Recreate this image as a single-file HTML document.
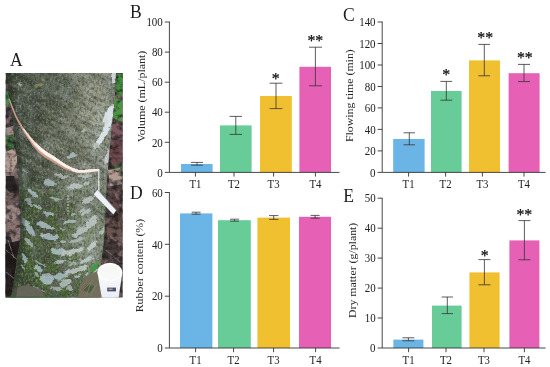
<!DOCTYPE html>
<html><head><meta charset="utf-8"><title>Figure</title>
<style>
html,body{margin:0;padding:0;background:#fff}
body{width:550px;height:367px;overflow:hidden}
svg{display:block;font-family:"Liberation Serif",serif}
.pl{font-size:19.5px;fill:#1c1c1c}
.tk{font-size:12.3px;fill:#222}
.yl{font-size:10.7px;fill:#262626}
.st{font-size:15.8px;fill:#111;stroke:#111;stroke-width:0.25}
.ax{stroke:#333333;stroke-width:0.9;fill:none}
.er{stroke:#333;stroke-width:0.8;fill:none}
</style></head><body>
<svg width="550" height="367" viewBox="0 0 550 367">
<rect width="550" height="367" fill="#fff"/>
<text transform="translate(9.9 66.4) scale(0.9 1)" class="pl">A</text>
<defs>
<clipPath id="pc"><rect x="5.5" y="73.0" width="117.3" height="224.6"/></clipPath>
<clipPath id="tc"><path id="trk" d="M7 72 L9 98 L14 125 L17 155 L19 185 L21 215 L20 240 L15.5 270 L11 298 L100 298 L101 262 L104 240 L105 215 L106.6 185 L109 155 L112 125 L114.6 100 L116 72 Z"/></clipPath>
<linearGradient id="tg" x1="7" x2="114" y1="0" y2="0" gradientUnits="userSpaceOnUse">
<stop offset="0" stop-color="#2b3029"/><stop offset="0.06" stop-color="#3a3f36"/><stop offset="0.25" stop-color="#484d42"/>
<stop offset="0.5" stop-color="#626658"/><stop offset="0.75" stop-color="#85887c"/><stop offset="0.92" stop-color="#9da097"/><stop offset="1" stop-color="#76796d"/>
</linearGradient>
<linearGradient id="mg" x1="0" x2="0" y1="73" y2="297" gradientUnits="userSpaceOnUse">
<stop offset="0" stop-color="#fff" stop-opacity="0.22"/><stop offset="0.46" stop-color="#fff" stop-opacity="0.15"/>
<stop offset="0.6" stop-color="#fff" stop-opacity="0.7"/><stop offset="1" stop-color="#fff" stop-opacity="1"/>
</linearGradient>
<mask id="mm" maskUnits="userSpaceOnUse" x="0" y="70" width="130" height="230"><rect x="0" y="70" width="130" height="230" fill="url(#mg)"/></mask>
<filter id="b1" x="-20%" y="-20%" width="140%" height="140%"><feGaussianBlur stdDeviation="0.6"/></filter>
<filter id="b2" x="-30%" y="-30%" width="160%" height="160%"><feGaussianBlur stdDeviation="2"/></filter>
<filter id="b4" x="-30%" y="-30%" width="160%" height="160%"><feGaussianBlur stdDeviation="4"/></filter>
<filter id="rough" x="-10%" y="-10%" width="120%" height="120%">
<feTurbulence type="fractalNoise" baseFrequency="0.18 0.14" numOctaves="3" seed="5" result="t"/>
<feDisplacementMap in="SourceGraphic" in2="t" scale="5" xChannelSelector="R" yChannelSelector="G"/>
<feGaussianBlur stdDeviation="0.65"/>
</filter>
<filter id="nL" x="0" y="0" width="100%" height="100%" color-interpolation-filters="sRGB"><feTurbulence type="fractalNoise" baseFrequency="0.5 0.38" numOctaves="3" seed="7"/><feColorMatrix type="matrix" values="0 0 0 0 0.753  0 0 0 0 0.776  0 0 0 0 0.753  2.6 0 0 0 -1.25"/></filter>
<filter id="nD" x="0" y="0" width="100%" height="100%" color-interpolation-filters="sRGB"><feTurbulence type="fractalNoise" baseFrequency="0.45 0.32" numOctaves="3" seed="3"/><feColorMatrix type="matrix" values="0 0 0 0 0.157  0 0 0 0 0.180  0 0 0 0 0.149  0 2.6 0 0 -1.15"/></filter>
<filter id="nS" x="0" y="0" width="100%" height="100%" color-interpolation-filters="sRGB"><feTurbulence type="fractalNoise" baseFrequency="0.035 0.22" numOctaves="3" seed="17"/><feColorMatrix type="matrix" values="0 0 0 0 0.204  0 0 0 0 0.227  0 0 0 0 0.173  3.0 0 0 0 -1.3"/></filter>
<filter id="nS2" x="0" y="0" width="100%" height="100%" color-interpolation-filters="sRGB"><feTurbulence type="fractalNoise" baseFrequency="0.035 0.2" numOctaves="3" seed="27"/><feColorMatrix type="matrix" values="0 0 0 0 0.690  0 0 0 0 0.706  0 0 0 0 0.659  0 3.0 0 0 -1.35"/></filter>
<filter id="nM" x="0" y="0" width="100%" height="100%" color-interpolation-filters="sRGB"><feTurbulence type="fractalNoise" baseFrequency="0.12 0.08" numOctaves="3" seed="21"/><feColorMatrix type="matrix" values="0 0 0 0 0.314  0 0 0 0 0.424  0 0 0 0 0.196  0 0 3.8 0 -1.5"/></filter>
<filter id="nM2" x="0" y="0" width="100%" height="100%" color-interpolation-filters="sRGB"><feTurbulence type="fractalNoise" baseFrequency="0.3 0.22" numOctaves="2" seed="9"/><feColorMatrix type="matrix" values="0 0 0 0 0.259  0 0 0 0 0.369  0 0 0 0 0.173  0 2.6 0 0 -1.1"/></filter>
<filter id="nG" x="0" y="0" width="100%" height="100%" color-interpolation-filters="sRGB"><feTurbulence type="fractalNoise" baseFrequency="0.07 0.05" numOctaves="2" seed="14"/><feColorMatrix type="matrix" values="0 0 0 0 0.745  0 0 0 0 0.784  0 0 0 0 0.776  3.0 0 0 0 -1.3"/></filter>
<filter id="nB" x="0" y="0" width="100%" height="100%" color-interpolation-filters="sRGB"><feTurbulence type="fractalNoise" baseFrequency="0.14 0.12" numOctaves="3" seed="11"/><feColorMatrix type="matrix" values="0 0 0 0 0.690  0 0 0 0 0.573  0 0 0 0 0.557  0 0 3.0 0 -1.35"/></filter>
<filter id="nBd" x="0" y="0" width="100%" height="100%" color-interpolation-filters="sRGB"><feTurbulence type="fractalNoise" baseFrequency="0.16 0.2" numOctaves="3" seed="31"/><feColorMatrix type="matrix" values="0 0 0 0 0.094  0 0 0 0 0.078  0 0 0 0 0.086  0 3.0 0 0 -1.3"/></filter>
</defs>
<g clip-path="url(#pc)">
<rect x="5.5" y="73.0" width="117.3" height="224.6" fill="#40383a"/>
<g filter="url(#b2)">
<ellipse cx="8" cy="100" rx="3" ry="6" fill="#3e8a48"/>
<ellipse cx="9" cy="140" rx="5" ry="10" fill="#4e7a42"/>
<ellipse cx="9" cy="168" rx="6" ry="14" fill="#a89088"/>
<ellipse cx="10" cy="200" rx="7" ry="12" fill="#6a5a58"/>
<ellipse cx="12" cy="225" rx="7" ry="10" fill="#8a7470"/>
<ellipse cx="10" cy="260" rx="7" ry="20" fill="#1f1b1e"/>
<ellipse cx="10" cy="290" rx="8" ry="6" fill="#3a3436"/>
<ellipse cx="119" cy="85" rx="4" ry="12" fill="#3f8a3c"/>
<ellipse cx="118" cy="110" rx="4" ry="10" fill="#5a9048"/>
<ellipse cx="119" cy="130" rx="4" ry="8" fill="#7a5a5c"/>
<ellipse cx="116" cy="150" rx="6" ry="12" fill="#6a4448"/>
<ellipse cx="117" cy="172" rx="5" ry="8" fill="#4a7a3c"/>
<ellipse cx="115" cy="195" rx="7" ry="10" fill="#5a4644"/>
<ellipse cx="116" cy="225" rx="7" ry="12" fill="#4a3834"/>
<ellipse cx="114" cy="250" rx="8" ry="8" fill="#33282a"/>
<ellipse cx="118" cy="243" rx="4" ry="6" fill="#8a6a68"/>
</g>
<rect x="5.5" y="73.0" width="117.3" height="224.6" filter="url(#nB)" opacity="0.6"/>
<g filter="url(#b1)">
<path d="M6 152 L15 148 L18 160 L12 172 L6 170 Z" fill="#b39c94"/>
<path d="M6 176 L14 176 L18 190 L9 192 L6 188 Z" fill="#2c2828"/>
<path d="M7 206 L17 203 L21 213 L12 222 L6 218 Z" fill="#9a8684"/>
<path d="M9 230 L20 227 L22 240 L13 246 Z" fill="#8c7876"/>
<path d="M6 128 L13 126 L14 136 L7 140 Z" fill="#a08c88"/>
<path d="M7 136 L13 134 L14 148 L8 149 Z" fill="#3f7a40"/>
<path d="M6 92 L8.5 91 L9 104 L6 104 Z" fill="#3f9048"/>
<path d="M110 150 L121 146 L123 160 L113 166 Z" fill="#6e4a4e"/>
<path d="M108 170 L120 168 L123 184 L110 186 Z" fill="#b09a92"/>
<path d="M108 196 L118 200 L122 214 L112 210 Z" fill="#5c4642"/>
<path d="M106 226 L120 222 L122 236 L108 240 Z" fill="#6a5450"/>
<path d="M104 244 L114 240 L122 250 L108 256 Z" fill="#4a3c3a"/>
<path d="M116 74 L122 74 L122 96 L117 92 Z" fill="#3f8c3c"/>
<path d="M114 98 L122 100 L122 122 L113 118 Z" fill="#4f9444"/>
<path d="M112 124 L122 126 L122 140 L112 138 Z" fill="#7c5a60"/>
<path d="M5 244 L21 240 L18 262 L13 299 L5 299 Z" fill="#1c181b" opacity="0.85"/>
<path d="M6 250 L20 262 M6 272 L16 280 M8 240 L14 258 M105 262 L121 252 M106 250 L120 262 M110 236 L122 246" stroke="#8a8084" stroke-width="0.8" fill="none"/>
</g>
<rect x="5.5" y="73.0" width="117.3" height="224.6" filter="url(#nBd)" opacity="0.7"/>
<path d="M78 297 L80 280 L90 272 L101 268 L104 297 Z" fill="#77705f" filter="url(#b1)"/>
<use href="#trk" fill="url(#tg)"/>
<g clip-path="url(#tc)">
<g filter="url(#b4)">
<ellipse cx="60" cy="88" rx="40" ry="12" fill="#667068" opacity="0.45"/>
<ellipse cx="30" cy="112" rx="12" ry="28" fill="#4a544c" opacity="0.55"/>
<ellipse cx="92" cy="110" rx="16" ry="40" fill="#b6b6a4" opacity="0.75"/>
<ellipse cx="97" cy="140" rx="9" ry="20" fill="#b6beb8" opacity="0.5"/>
<ellipse cx="80" cy="185" rx="22" ry="9" fill="#aab4ac" opacity="0.55"/>
<ellipse cx="45" cy="150" rx="18" ry="12" fill="#566058" opacity="0.45"/>
<ellipse cx="34" cy="162" rx="16" ry="24" fill="#454b40" opacity="0.6"/>
<ellipse cx="64" cy="140" rx="28" ry="26" fill="#74735c" opacity="0.4"/>
<ellipse cx="30" cy="205" rx="8" ry="30" fill="#3e5234" opacity="0.45"/>
<ellipse cx="30" cy="266" rx="13" ry="26" fill="#2c4220" opacity="0.55"/>
<ellipse cx="80" cy="250" rx="22" ry="16" fill="#b0bcb8" opacity="0.5"/>
<ellipse cx="55" cy="292" rx="40" ry="7" fill="#5e665a" opacity="0.6"/>
</g>
<rect x="5.5" y="73.0" width="117.3" height="224.6" filter="url(#nG)" opacity="0.35"/>
<g mask="url(#mm)"><rect x="5.5" y="73.0" width="117.3" height="224.6" fill="#3a4434" opacity="0.3"/></g>
<g mask="url(#mm)"><rect x="5.5" y="73.0" width="117.3" height="224.6" filter="url(#nM)" opacity="0.85"/><rect x="5.5" y="73.0" width="117.3" height="224.6" filter="url(#nM2)" opacity="0.6"/></g>
<ellipse cx="88" cy="228" rx="13" ry="48" fill="#b4bcb6" opacity="0.42" filter="url(#b4)"/>
<rect x="-40" y="40" width="220" height="150" filter="url(#nS)" opacity="0.42" transform="rotate(28 60 120)"/>
<rect x="-40" y="40" width="220" height="150" filter="url(#nS2)" opacity="0.3" transform="rotate(28 60 120)"/>
<rect x="5.5" y="73.0" width="117.3" height="224.6" filter="url(#nD)" opacity="0.55"/>
<rect x="5.5" y="73.0" width="117.3" height="224.6" filter="url(#nL)" opacity="0.42"/>
<g filter="url(#rough)">
<ellipse cx="19.6" cy="84" rx="2.6" ry="1.2" fill="#a9c4d4" transform="rotate(25 19.6 84)" opacity="0.78"/>
<ellipse cx="39" cy="85" rx="5" ry="1.6" fill="#8f8a58" transform="rotate(-5 39 85)" opacity="0.78"/>
<ellipse cx="114" cy="78" rx="1.9" ry="5.5" fill="#e8eef2" transform="rotate(6 114 78)" opacity="0.78"/>
<ellipse cx="110.5" cy="116" rx="2.4" ry="12" fill="#e0e7ec" transform="rotate(8 110.5 116)" opacity="0.78"/>
<ellipse cx="104" cy="134" rx="3.2" ry="11" fill="#d2d9dc" transform="rotate(30 104 134)" opacity="0.78"/>
<ellipse cx="97.5" cy="145" rx="2" ry="5" fill="#c2cac8" transform="rotate(38 97.5 145)" opacity="0.78"/>
<ellipse cx="107" cy="157" rx="1.8" ry="8" fill="#d0d6d6" transform="rotate(14 107 157)" opacity="0.78"/>
<ellipse cx="72" cy="155.5" rx="5.5" ry="2.2" fill="#b6c8ce" transform="rotate(-12 72 155.5)" opacity="0.78"/>
<ellipse cx="84" cy="131" rx="2" ry="1.5" fill="#bcc8c8" transform="rotate(0 84 131)" opacity="0.78"/>
<ellipse cx="49" cy="183" rx="6" ry="3" fill="#b0c0c8" transform="rotate(8 49 183)" opacity="0.78"/>
<ellipse cx="32.5" cy="193" rx="6.5" ry="2" fill="#b0c0c8" transform="rotate(42 32.5 193)" opacity="0.78"/>
<ellipse cx="49" cy="214" rx="5.5" ry="1.8" fill="#b0c2c8" transform="rotate(8 49 214)" opacity="0.78"/>
<ellipse cx="28" cy="227" rx="10" ry="3.2" fill="#b0c4ce" transform="rotate(58 28 227)" opacity="0.78"/>
<ellipse cx="45.5" cy="226" rx="9" ry="2.6" fill="#b4c6ce" transform="rotate(18 45.5 226)" opacity="0.78"/>
<ellipse cx="50" cy="237" rx="9" ry="3" fill="#b4c8d2" transform="rotate(5 50 237)" opacity="0.78"/>
<ellipse cx="24.5" cy="258" rx="5" ry="2" fill="#a8bec8" transform="rotate(62 24.5 258)" opacity="0.78"/>
<ellipse cx="58" cy="251" rx="8" ry="2.8" fill="#b6cad4" transform="rotate(4 58 251)" opacity="0.78"/>
<ellipse cx="39" cy="269" rx="4" ry="2.6" fill="#b0c6d0" transform="rotate(40 39 269)" opacity="0.78"/>
<ellipse cx="47" cy="280" rx="7.5" ry="4.5" fill="#b4cad6" transform="rotate(8 47 280)" opacity="0.78"/>
<ellipse cx="60" cy="276" rx="7" ry="3.6" fill="#b0c6d0" transform="rotate(-5 60 276)" opacity="0.78"/>
<ellipse cx="75" cy="186" rx="8" ry="2.2" fill="#c6d0d0" transform="rotate(-8 75 186)" opacity="0.78"/>
<ellipse cx="88" cy="200" rx="7" ry="3" fill="#c2ccca" transform="rotate(-28 88 200)" opacity="0.78"/>
<ellipse cx="92" cy="222" rx="8" ry="3.5" fill="#c6cecc" transform="rotate(-52 92 222)" opacity="0.78"/>
<ellipse cx="80" cy="232" rx="9" ry="3" fill="#c0cac8" transform="rotate(-30 80 232)" opacity="0.78"/>
<ellipse cx="72" cy="252" rx="12" ry="2.6" fill="#cad4d4" transform="rotate(-14 72 252)" opacity="0.78"/>
<ellipse cx="92" cy="246" rx="6" ry="2.4" fill="#ccd6d6" transform="rotate(-50 92 246)" opacity="0.78"/>
<ellipse cx="76" cy="270" rx="12" ry="3" fill="#c6d2d2" transform="rotate(-16 76 270)" opacity="0.78"/>
<ellipse cx="66" cy="283" rx="7" ry="3" fill="#bac8c8" transform="rotate(-20 66 283)" opacity="0.78"/>
<ellipse cx="62" cy="176" rx="8" ry="2" fill="#b4beba" transform="rotate(6 62 176)" opacity="0.78"/>
<ellipse cx="84" cy="176" rx="7" ry="2" fill="#bac4c0" transform="rotate(-4 84 176)" opacity="0.78"/>
<ellipse cx="38" cy="207" rx="5" ry="1.6" fill="#a8bac0" transform="rotate(30 38 207)" opacity="0.78"/>
<ellipse cx="60" cy="262" rx="6" ry="1.8" fill="#b4c6cc" transform="rotate(-6 60 262)" opacity="0.78"/>
<ellipse cx="86" cy="212" rx="6" ry="2" fill="#bcc8c6" transform="rotate(-35 86 212)" opacity="0.78"/>
<ellipse cx="70" cy="222" rx="7" ry="1.8" fill="#b6c4c4" transform="rotate(-10 70 222)" opacity="0.78"/>
<ellipse cx="86" cy="260" rx="7" ry="2" fill="#c4d0d0" transform="rotate(-30 86 260)" opacity="0.78"/>
<ellipse cx="56" cy="199" rx="5" ry="1.5" fill="#a8b8bc" transform="rotate(5 56 199)" opacity="0.78"/>
<ellipse cx="25.3" cy="171.7" rx="3.0" ry="0.8" fill="#9da9b1" transform="rotate(51 25.3 171.7)" opacity="0.78"/>
<ellipse cx="54.2" cy="183.5" rx="5.2" ry="0.8" fill="#a5b1b9" transform="rotate(17 54.2 183.5)" opacity="0.78"/>
<ellipse cx="86.7" cy="183.5" rx="3.5" ry="1.7" fill="#bbc7c7" transform="rotate(-27 86.7 183.5)" opacity="0.78"/>
<ellipse cx="95.7" cy="194.8" rx="3.3" ry="0.8" fill="#b1bdbd" transform="rotate(-39 95.7 194.8)" opacity="0.78"/>
<ellipse cx="29.5" cy="202.0" rx="5.2" ry="2.0" fill="#9ba7af" transform="rotate(50 29.5 202.0)" opacity="0.78"/>
<ellipse cx="73.2" cy="214.7" rx="2.8" ry="1.5" fill="#acb8b8" transform="rotate(-9 73.2 214.7)" opacity="0.78"/>
<ellipse cx="82.1" cy="210.3" rx="3.4" ry="1.6" fill="#bac6c6" transform="rotate(-22 82.1 210.3)" opacity="0.78"/>
<ellipse cx="48.9" cy="225.7" rx="7.2" ry="1.1" fill="#a2aeb6" transform="rotate(26 48.9 225.7)" opacity="0.78"/>
<ellipse cx="62.5" cy="228.7" rx="3.2" ry="1.1" fill="#a5b1b9" transform="rotate(6 62.5 228.7)" opacity="0.78"/>
<ellipse cx="80.4" cy="227.4" rx="4.0" ry="1.3" fill="#afbbbb" transform="rotate(-20 80.4 227.4)" opacity="0.78"/>
<ellipse cx="88.4" cy="223.8" rx="2.8" ry="0.9" fill="#afbbbb" transform="rotate(-31 88.4 223.8)" opacity="0.78"/>
<ellipse cx="31.0" cy="232.0" rx="6.4" ry="1.3" fill="#9da9b1" transform="rotate(47 31.0 232.0)" opacity="0.78"/>
<ellipse cx="43.1" cy="234.7" rx="2.7" ry="1.9" fill="#abb7bf" transform="rotate(33 43.1 234.7)" opacity="0.78"/>
<ellipse cx="52.0" cy="237.4" rx="2.7" ry="1.0" fill="#a4b0b8" transform="rotate(21 52.0 237.4)" opacity="0.78"/>
<ellipse cx="63.2" cy="241.6" rx="3.2" ry="1.4" fill="#b5c1c1" transform="rotate(4 63.2 241.6)" opacity="0.78"/>
<ellipse cx="76.4" cy="240.3" rx="7.0" ry="1.7" fill="#b2bebe" transform="rotate(-15 76.4 240.3)" opacity="0.78"/>
<ellipse cx="104.6" cy="228.5" rx="7.1" ry="1.7" fill="#bfcbcb" transform="rotate(-51 104.6 228.5)" opacity="0.78"/>
<ellipse cx="28.5" cy="241.8" rx="5.8" ry="1.9" fill="#a8b4bc" transform="rotate(48 28.5 241.8)" opacity="0.78"/>
<ellipse cx="69.1" cy="251.0" rx="7.3" ry="0.9" fill="#b2bebe" transform="rotate(-7 69.1 251.0)" opacity="0.78"/>
<ellipse cx="40.4" cy="263.6" rx="6.9" ry="1.0" fill="#a9b5bd" transform="rotate(31 40.4 263.6)" opacity="0.78"/>
<ellipse cx="72.4" cy="263.4" rx="5.1" ry="1.5" fill="#b1bdbd" transform="rotate(-14 72.4 263.4)" opacity="0.78"/>
<ellipse cx="88.4" cy="260.1" rx="5.5" ry="1.7" fill="#b8c4c4" transform="rotate(-36 88.4 260.1)" opacity="0.78"/>
<ellipse cx="23.1" cy="267.1" rx="4.4" ry="1.0" fill="#a0acb4" transform="rotate(48 23.1 267.1)" opacity="0.78"/>
<ellipse cx="36.3" cy="274.7" rx="3.0" ry="1.9" fill="#a5b1b9" transform="rotate(33 36.3 274.7)" opacity="0.78"/>
<ellipse cx="49.3" cy="276.2" rx="6.8" ry="1.8" fill="#a5b1b9" transform="rotate(17 49.3 276.2)" opacity="0.78"/>
<ellipse cx="65.3" cy="280.1" rx="6.7" ry="0.9" fill="#b5c1c1" transform="rotate(-6 65.3 280.1)" opacity="0.78"/>
<ellipse cx="77.1" cy="276.4" rx="3.2" ry="1.4" fill="#bac6c6" transform="rotate(-22 77.1 276.4)" opacity="0.78"/>
<ellipse cx="87.4" cy="274.0" rx="2.5" ry="1.3" fill="#bbc7c7" transform="rotate(-35 87.4 274.0)" opacity="0.78"/>
<ellipse cx="96.2" cy="271.1" rx="2.9" ry="1.2" fill="#bfcbcb" transform="rotate(-45 96.2 271.1)" opacity="0.78"/>
<ellipse cx="38.7" cy="288.2" rx="7.1" ry="1.1" fill="#acb8c0" transform="rotate(28 38.7 288.2)" opacity="0.78"/>
<ellipse cx="56.3" cy="288.4" rx="5.6" ry="1.7" fill="#aab6b6" transform="rotate(5 56.3 288.4)" opacity="0.78"/>
<ellipse cx="69.3" cy="288.0" rx="3.2" ry="1.8" fill="#acb8b8" transform="rotate(-12 69.3 288.0)" opacity="0.78"/>
<ellipse cx="95.1" cy="280.7" rx="5.6" ry="1.9" fill="#b5c1c1" transform="rotate(-43 95.1 280.7)" opacity="0.78"/>
</g>
<path d="M113.4 104 L105.2 112 L102.6 131 L97 143 L99 145 L106 136 L110.6 127 Z" fill="#dde4ea" opacity="0.9" filter="url(#rough)"/>
<path d="M10 298 L15 288 L27 285 L41 289 L45 298 Z" fill="#69665b" opacity="0.9" filter="url(#b1)"/>
<path d="M68 195 V214 M70 252 V264" stroke="#dde4e4" stroke-width="0.8" stroke-dasharray="2 1" fill="none"/>
<path d="M7 72 L9 98 L14 125 L17 155 L19 185 L21 215 L20 240 L15.5 270 L11 299 L16 299 L20 270 L24 240 L25 215 L23 185 L21 155 L18 125 L13 98 L11 73 Z" fill="#283028" opacity="0.4" filter="url(#b1)"/>
</g>
<path d="M9.6 98.4 L13.2 107.7 L17.0 117.0 L23.8 128.2 L30.6 137.1 L36.1 143.2 L41.8 148.2 L47.6 152.4 L54.2 156.4 L60.4 160.9 L66.4 165.0 L72.7 168.0 L78.4 169.9 L84.4 170.1 L90.8 169.6 L98.4 169.0 L98.6 171.2 L91.0 172.4 L84.6 173.1 L78.0 173.3 L71.3 171.6 L64.4 169.0 L57.6 165.1 L51.2 161.2 L44.4 157.2 L38.2 152.2 L32.9 146.0 L28.2 138.9 L22.0 129.4 L15.6 117.8 L11.8 108.3 L8.4 98.8 Z" fill="#c69a8a"/>
<path d="M23.8 128.2 L30.6 137.1 L36.1 143.2 L41.8 148.2 L47.6 152.4 L54.2 156.4 L60.4 160.9 L66.4 165.0 L72.7 168.0 L78.4 169.9 L84.4 170.1 L90.8 169.6 L98.4 169.0 L98.5 170.4 L90.9 171.3 L84.5 172.0 L78.1 172.0 L71.8 170.2 L65.1 167.5 L58.7 163.5 L52.3 159.4 L45.6 155.4 L39.6 150.7 L34.1 144.9 L29.1 138.2 L22.7 128.9 Z" fill="#f4ddd2"/>
<path d="M36.0 143.1 L41.8 148.2 L47.6 152.4 L54.2 156.4 L60.4 160.9 L66.4 165.0 L72.7 168.0 L78.4 169.9 L84.4 170.1 L90.8 169.6 L98.4 169.0 L98.5 170.1 L90.9 171.0 L84.5 171.6 L78.2 171.6 L72.0 169.8 L65.4 167.0 L59.0 163.0 L52.7 158.8 L46.0 154.8 L40.0 150.2 L34.5 144.6 Z" fill="#fbf3ee"/>
<path d="M72.5 167.9 L78.4 169.9 L84.4 170.1 L90.8 169.6 L98.4 169.0 L98.6 170.9 L91.0 172.0 L84.6 172.7 L78.0 172.8 L71.6 171.1 Z" fill="#f8eee8"/>
<path d="M98.8 169 V193" stroke="#f0f2f0" stroke-width="1.1" fill="none"/>
<path d="M93.8 194.2 L97.6 189.8 L116.2 210.2 L113.4 214.6 Z" fill="#eef1f5"/>
<path d="M97.6 189.8 L116.2 210.2" stroke="#8fa0c0" stroke-width="0.8" fill="none"/>
<path d="M78 298 L80 285 L86 278 L93 274 L101 268 L103 298 Z" fill="#746e5e" filter="url(#b1)"/>
<path d="M82 290 L88 284 L94 286 L90 293 Z" fill="#5a5548" filter="url(#b1)"/>
<path d="M91 272 C91 266 94 263 98.5 262.5 C98 267 96 271 91 272 Z" fill="#3f9a44"/>
<path d="M86 296 L92 280 M90 296 L97 284 M83 290 L90 283" stroke="#5a9a4a" stroke-width="0.8" fill="none"/>
<linearGradient id="cg" x1="0" x2="0" y1="272" y2="298" gradientUnits="userSpaceOnUse"><stop offset="0" stop-color="#fbfbfb"/><stop offset="1" stop-color="#e9edf7"/></linearGradient>
<path d="M97.4 272 L101.8 298 L118.6 298 L122.4 272 Z" fill="url(#cg)"/>
<ellipse cx="109.8" cy="272" rx="12.4" ry="9.2" fill="#fcfcfb"/>
<ellipse cx="109.8" cy="272.6" rx="10.4" ry="7.2" fill="#f8f8f7"/>
<rect x="107.2" y="287.6" width="8.8" height="3.8" fill="#50506a"/>
<rect x="108.6" y="288.6" width="4" height="1.2" fill="#b0b0b0"/>
<rect x="5.5" y="296.6" width="60" height="1" fill="#2f6a38"/>
</g>
<text transform="translate(130.1 17.6) scale(0.9 1)" class="pl">B</text>
<rect x="181" y="164" width="31.6" height="8.4" fill="#6ab4e6"/>
<rect x="220" y="125.4" width="31.6" height="47.0" fill="#68cc98"/>
<rect x="260" y="96" width="31.8" height="76.4" fill="#f0c030"/>
<rect x="299.4" y="66.8" width="31.6" height="105.6" fill="#e661b6"/>
<path d="M169.4 21.6V172.4H339.5" class="ax"/>
<path d="M164.8 172.4H169.4" class="ax"/>
<text x="162.8" y="176.6" class="tk" text-anchor="end" textLength="5.5" lengthAdjust="spacingAndGlyphs">0</text>
<path d="M164.8 142.3H169.4" class="ax"/>
<text x="162.8" y="146.5" class="tk" text-anchor="end" textLength="10.9" lengthAdjust="spacingAndGlyphs">20</text>
<path d="M164.8 112.2H169.4" class="ax"/>
<text x="162.8" y="116.4" class="tk" text-anchor="end" textLength="10.9" lengthAdjust="spacingAndGlyphs">40</text>
<path d="M164.8 82.2H169.4" class="ax"/>
<text x="162.8" y="86.4" class="tk" text-anchor="end" textLength="10.9" lengthAdjust="spacingAndGlyphs">60</text>
<path d="M164.8 52.1H169.4" class="ax"/>
<text x="162.8" y="56.300000000000004" class="tk" text-anchor="end" textLength="10.9" lengthAdjust="spacingAndGlyphs">80</text>
<path d="M164.8 22.0H169.4" class="ax"/>
<text x="162.8" y="26.2" class="tk" text-anchor="end" textLength="16.4" lengthAdjust="spacingAndGlyphs">100</text>
<path d="M195.4 172.4V176.6" class="ax"/>
<text x="195.4" y="187.7" class="tk" text-anchor="middle" textLength="12.0" lengthAdjust="spacingAndGlyphs">T1</text>
<path d="M234 172.4V176.6" class="ax"/>
<text x="234" y="187.7" class="tk" text-anchor="middle" textLength="12.0" lengthAdjust="spacingAndGlyphs">T2</text>
<path d="M273.6 172.4V176.6" class="ax"/>
<text x="273.6" y="187.7" class="tk" text-anchor="middle" textLength="12.0" lengthAdjust="spacingAndGlyphs">T3</text>
<path d="M315.4 172.4V176.6" class="ax"/>
<text x="315.4" y="187.7" class="tk" text-anchor="middle" textLength="12.0" lengthAdjust="spacingAndGlyphs">T4</text>
<path d="M191 162.4H203M191 165.2H203M197 162.4V165.2" class="er"/>
<path d="M229.6 116.4H242M229.6 134.4H242M235.8 116.4V134.4" class="er"/>
<path d="M269.6 83.2H282.4M269.6 108.6H282.4M276 83.2V108.6" class="er"/>
<path d="M309 47.2H322M309 85.8H322M315.4 47.2V85.8" class="er"/>
<text transform="translate(144.5 142.3) rotate(-90)" class="yl" textLength="91.6" lengthAdjust="spacingAndGlyphs">Volume (mL/plant)</text>
<text x="275.8" y="84.0" class="st" text-anchor="middle">*</text>
<text x="315.3" y="45.9" class="st" text-anchor="middle">**</text>
<text transform="translate(343.0 20.7) scale(0.9 1)" class="pl">C</text>
<rect x="393.2" y="139" width="31.4" height="33.4" fill="#6ab4e6"/>
<rect x="431" y="91" width="30.6" height="81.4" fill="#68cc98"/>
<rect x="469" y="60.4" width="31.0" height="112.0" fill="#f0c030"/>
<rect x="508.6" y="73.2" width="31.0" height="99.2" fill="#e661b6"/>
<path d="M382.2 21.6V172.4H545.6" class="ax"/>
<path d="M377.59999999999997 172.4H382.2" class="ax"/>
<text x="375.59999999999997" y="176.6" class="tk" text-anchor="end" textLength="5.5" lengthAdjust="spacingAndGlyphs">0</text>
<path d="M377.59999999999997 150.9H382.2" class="ax"/>
<text x="375.59999999999997" y="155.1" class="tk" text-anchor="end" textLength="10.9" lengthAdjust="spacingAndGlyphs">20</text>
<path d="M377.59999999999997 129.4H382.2" class="ax"/>
<text x="375.59999999999997" y="133.6" class="tk" text-anchor="end" textLength="10.9" lengthAdjust="spacingAndGlyphs">40</text>
<path d="M377.59999999999997 107.9H382.2" class="ax"/>
<text x="375.59999999999997" y="112.10000000000001" class="tk" text-anchor="end" textLength="10.9" lengthAdjust="spacingAndGlyphs">60</text>
<path d="M377.59999999999997 86.5H382.2" class="ax"/>
<text x="375.59999999999997" y="90.7" class="tk" text-anchor="end" textLength="10.9" lengthAdjust="spacingAndGlyphs">80</text>
<path d="M377.59999999999997 65.0H382.2" class="ax"/>
<text x="375.59999999999997" y="69.2" class="tk" text-anchor="end" textLength="16.4" lengthAdjust="spacingAndGlyphs">100</text>
<path d="M377.59999999999997 43.5H382.2" class="ax"/>
<text x="375.59999999999997" y="47.7" class="tk" text-anchor="end" textLength="16.4" lengthAdjust="spacingAndGlyphs">120</text>
<path d="M377.59999999999997 22.0H382.2" class="ax"/>
<text x="375.59999999999997" y="26.2" class="tk" text-anchor="end" textLength="16.4" lengthAdjust="spacingAndGlyphs">140</text>
<path d="M408.6 172.4V176.6" class="ax"/>
<text x="408.6" y="187.7" class="tk" text-anchor="middle" textLength="12.0" lengthAdjust="spacingAndGlyphs">T1</text>
<path d="M445.6 172.4V176.6" class="ax"/>
<text x="445.6" y="187.7" class="tk" text-anchor="middle" textLength="12.0" lengthAdjust="spacingAndGlyphs">T2</text>
<path d="M482.4 172.4V176.6" class="ax"/>
<text x="482.4" y="187.7" class="tk" text-anchor="middle" textLength="12.0" lengthAdjust="spacingAndGlyphs">T3</text>
<path d="M524 172.4V176.6" class="ax"/>
<text x="524" y="187.7" class="tk" text-anchor="middle" textLength="12.0" lengthAdjust="spacingAndGlyphs">T4</text>
<path d="M403.6 132.8H415M403.6 144.8H415M409.3 132.8V144.8" class="er"/>
<path d="M440.4 81.4H452.2M440.4 100.2H452.2M446.3 81.4V100.2" class="er"/>
<path d="M478.4 44.4H490M478.4 75.8H490M484.3 44.4V75.8" class="er"/>
<path d="M518 64.4H530M518 81.6H530M524 64.4V81.6" class="er"/>
<text transform="translate(353.0 142.1) rotate(-90)" class="yl" textLength="92.9" lengthAdjust="spacingAndGlyphs">Flowing time (min)</text>
<text x="446.2" y="80.4" class="st" text-anchor="middle">*</text>
<text x="485.2" y="43.0" class="st" text-anchor="middle">**</text>
<text x="524.8" y="63.4" class="st" text-anchor="middle">**</text>
<text transform="translate(130.1 198.5) scale(0.9 1)" class="pl">D</text>
<rect x="180" y="213.4" width="32.4" height="134.6" fill="#6ab4e6"/>
<rect x="218" y="220.2" width="32.8" height="127.8" fill="#68cc98"/>
<rect x="257.4" y="217.6" width="32.6" height="130.4" fill="#f0c030"/>
<rect x="299" y="216.8" width="32.0" height="131.2" fill="#e661b6"/>
<path d="M169.4 192.1V348H339.5" class="ax"/>
<path d="M164.8 348.0H169.4" class="ax"/>
<text x="162.8" y="352.2" class="tk" text-anchor="end" textLength="5.5" lengthAdjust="spacingAndGlyphs">0</text>
<path d="M164.8 296.2H169.4" class="ax"/>
<text x="162.8" y="300.4" class="tk" text-anchor="end" textLength="10.9" lengthAdjust="spacingAndGlyphs">20</text>
<path d="M164.8 244.3H169.4" class="ax"/>
<text x="162.8" y="248.5" class="tk" text-anchor="end" textLength="10.9" lengthAdjust="spacingAndGlyphs">40</text>
<path d="M164.8 192.5H169.4" class="ax"/>
<text x="162.8" y="196.7" class="tk" text-anchor="end" textLength="10.9" lengthAdjust="spacingAndGlyphs">60</text>
<path d="M195.6 348V352.2" class="ax"/>
<text x="195.6" y="364.4" class="tk" text-anchor="middle" textLength="12.0" lengthAdjust="spacingAndGlyphs">T1</text>
<path d="M233.6 348V352.2" class="ax"/>
<text x="233.6" y="364.4" class="tk" text-anchor="middle" textLength="12.0" lengthAdjust="spacingAndGlyphs">T2</text>
<path d="M273.6 348V352.2" class="ax"/>
<text x="273.6" y="364.4" class="tk" text-anchor="middle" textLength="12.0" lengthAdjust="spacingAndGlyphs">T3</text>
<path d="M315.6 348V352.2" class="ax"/>
<text x="315.6" y="364.4" class="tk" text-anchor="middle" textLength="12.0" lengthAdjust="spacingAndGlyphs">T4</text>
<path d="M191.6 212.2H200.6M191.6 214.2H200.6M196.1 212.2V214.2" class="er"/>
<path d="M230 219.2H239M230 221.2H239M234.5 219.2V221.2" class="er"/>
<path d="M269 215.6H278.4M269 219.4H278.4M273.7 215.6V219.4" class="er"/>
<path d="M310.6 215.4H319.6M310.6 218.2H319.6M315.1 215.4V218.2" class="er"/>
<text transform="translate(142.8 312.3) rotate(-90)" class="yl" textLength="93.5" lengthAdjust="spacingAndGlyphs">Rubber content (%)</text>
<text transform="translate(343.3 201.5) scale(0.9 1)" class="pl">E</text>
<rect x="393.4" y="339.6" width="30.0" height="8.4" fill="#6ab4e6"/>
<rect x="432" y="305.6" width="29.6" height="42.4" fill="#68cc98"/>
<rect x="469.4" y="272.4" width="30.2" height="75.6" fill="#f0c030"/>
<rect x="509.4" y="240.4" width="30.0" height="107.6" fill="#e661b6"/>
<path d="M382.2 197.79999999999998V348H545.6" class="ax"/>
<path d="M377.59999999999997 348.0H382.2" class="ax"/>
<text x="375.59999999999997" y="352.2" class="tk" text-anchor="end" textLength="5.5" lengthAdjust="spacingAndGlyphs">0</text>
<path d="M377.59999999999997 318.0H382.2" class="ax"/>
<text x="375.59999999999997" y="322.2" class="tk" text-anchor="end" textLength="10.9" lengthAdjust="spacingAndGlyphs">10</text>
<path d="M377.59999999999997 288.1H382.2" class="ax"/>
<text x="375.59999999999997" y="292.3" class="tk" text-anchor="end" textLength="10.9" lengthAdjust="spacingAndGlyphs">20</text>
<path d="M377.59999999999997 258.1H382.2" class="ax"/>
<text x="375.59999999999997" y="262.3" class="tk" text-anchor="end" textLength="10.9" lengthAdjust="spacingAndGlyphs">30</text>
<path d="M377.59999999999997 228.2H382.2" class="ax"/>
<text x="375.59999999999997" y="232.39999999999998" class="tk" text-anchor="end" textLength="10.9" lengthAdjust="spacingAndGlyphs">40</text>
<path d="M377.59999999999997 198.2H382.2" class="ax"/>
<text x="375.59999999999997" y="202.39999999999998" class="tk" text-anchor="end" textLength="10.9" lengthAdjust="spacingAndGlyphs">50</text>
<path d="M408.6 348V352.2" class="ax"/>
<text x="408.6" y="364.4" class="tk" text-anchor="middle" textLength="12.0" lengthAdjust="spacingAndGlyphs">T1</text>
<path d="M446 348V352.2" class="ax"/>
<text x="446" y="364.4" class="tk" text-anchor="middle" textLength="12.0" lengthAdjust="spacingAndGlyphs">T2</text>
<path d="M484 348V352.2" class="ax"/>
<text x="484" y="364.4" class="tk" text-anchor="middle" textLength="12.0" lengthAdjust="spacingAndGlyphs">T3</text>
<path d="M524.4 348V352.2" class="ax"/>
<text x="524.4" y="364.4" class="tk" text-anchor="middle" textLength="12.0" lengthAdjust="spacingAndGlyphs">T4</text>
<path d="M402.4 337.8H414.4M402.4 340.8H414.4M408.4 337.8V340.8" class="er"/>
<path d="M441.6 297H453M441.6 313.6H453M447.3 297V313.6" class="er"/>
<path d="M478.4 259.6H490.4M478.4 284.8H490.4M484.4 259.6V284.8" class="er"/>
<path d="M518.4 220.6H530.4M518.4 259.8H530.4M524.4 220.6V259.8" class="er"/>
<text transform="translate(355.8 318.0) rotate(-90)" class="yl" textLength="95.3" lengthAdjust="spacingAndGlyphs">Dry matter (g/plant)</text>
<text x="484.7" y="260.6" class="st" text-anchor="middle">*</text>
<text x="524.3" y="220.0" class="st" text-anchor="middle">**</text>
</svg>
</body></html>
